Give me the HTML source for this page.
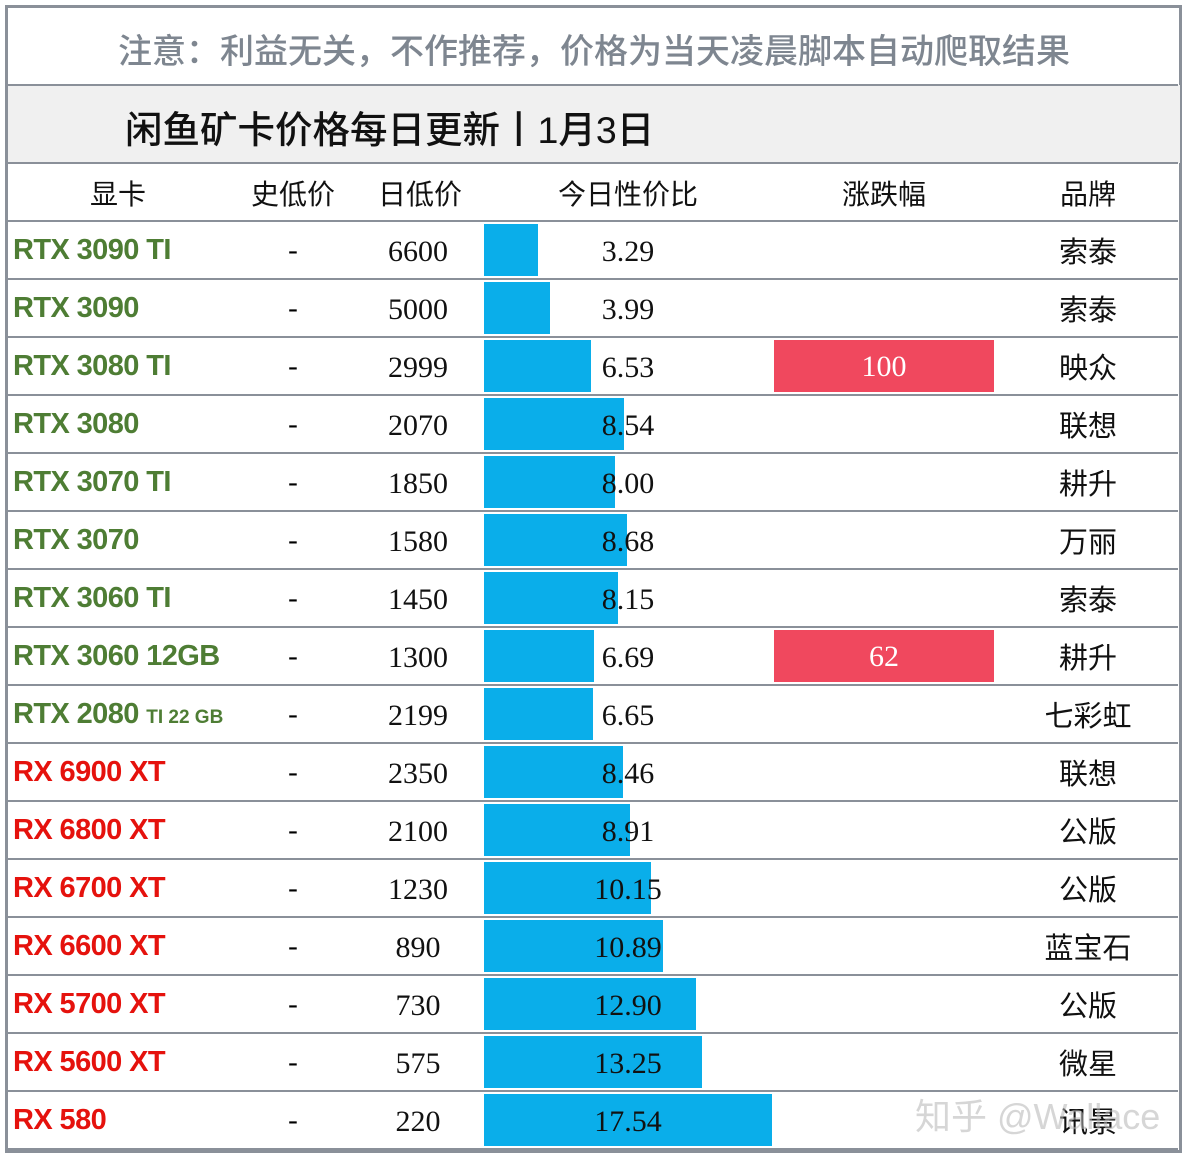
<!DOCTYPE html>
<html><head><meta charset="utf-8">
<style>
body{margin:0;width:1188px;height:1156px;background:#fff;overflow:hidden;position:relative;font-family:"Liberation Sans","Noto Sans CJK SC",sans-serif}
.a{position:absolute}
.hl{position:absolute;left:6px;width:1172px;height:2px;background:#8a9099}
.c{position:absolute;text-align:center;white-space:nowrap}
</style></head><body>
<div class="a" style="left:5px;top:5px;width:1171px;height:1142px;border:3px solid #8a9099"></div>
<div class="c" style="left:8px;width:1172px;top:24px;font-size:34px;color:#7e8690;font-weight:500">注意：利益无关，不作推荐，价格为当天凌晨脚本自动爬取结果</div>
<div class="a" style="left:8px;top:85px;width:1172px;height:78px;background:#f0f0f0"></div>
<div class="a" style="left:125px;top:99px;font-size:37.5px;color:#111;font-weight:500">闲鱼矿卡价格每日更新丨1月3日</div>
<div class="hl" style="top:84px"></div><div class="hl" style="top:162px"></div>
<div id="hdr"></div>
<div id="rows"></div>
<div class="a" style="left:915px;top:1088px;font-size:36px;color:rgba(180,180,180,0.55)">知乎 @Wallace</div>
<script>
const names=["RTX 3090 TI","RTX 3090","RTX 3080 TI","RTX 3080","RTX 3070 TI","RTX 3070","RTX 3060 TI","RTX 3060 12GB","RTX 2080","RX 6900 XT","RX 6800 XT","RX 6700 XT","RX 6600 XT","RX 5700 XT","RX 5600 XT","RX 580"];
const prices=[6600,5000,2999,2070,1850,1580,1450,1300,2199,2350,2100,1230,890,730,575,220];
const ratios=[3.29,3.99,6.53,8.54,8.00,8.68,8.15,6.69,6.65,8.46,8.91,10.15,10.89,12.90,13.25,17.54];
const changes=[null,null,100,null,null,null,null,62,null,null,null,null,null,null,null,null];
const brands=["索泰","索泰","映众","联想","耕升","万丽","索泰","耕升","七彩虹","联想","公版","公版","蓝宝石","公版","微星","讯景"];
const headers=["显卡","史低价","日低价","今日性价比","涨跌幅","品牌"];
const colC=[118,293,420,628,884,1088];
const barX=484, barScale=16.42, rowTop=221, rowH=58;
const hdr=document.getElementById('hdr');
headers.forEach((h,i)=>{const d=document.createElement('div');d.className='c';


d.style.cssText=`left:${colC[i]-100}px;width:200px;top:173px;font-size:28px;color:#111`;d.textContent=h;hdr.appendChild(d);});
const R=document.getElementById('rows');
names.forEach((n,i)=>{const y=rowTop+i*rowH;
 const line=document.createElement('div');line.className='hl';line.style.top=(y-1)+'px';R.appendChild(line);
 const nm=document.createElement('div');nm.className='a';
 
 
 const green=n.startsWith('RTX');
 nm.style.cssText=`left:13px;top:${y+13}px;font-size:29px;font-weight:bold;letter-spacing:-0.6px;color:${green?'#4e7d34':'#e5120d'};white-space:nowrap;width:216px;overflow:hidden`;
 nm.innerHTML=n==="RTX 2080"?'RTX 2080 <span style="font-size:19px;letter-spacing:0">TI 22 GB</span>':n;R.appendChild(nm);
 const lo=document.createElement('div');lo.className='c';
 
 
 lo.style.cssText=`left:243px;width:100px;top:${y+13}px;font-size:29px;font-family:'Liberation Serif',serif`;lo.textContent='-';R.appendChild(lo);
 const p=document.createElement('div');p.className='c';
 
 
 p.style.cssText=`left:338px;width:160px;top:${y+14}px;font-size:30px;font-family:'Liberation Serif',serif;color:#111`;p.textContent=prices[i];R.appendChild(p);
 const b=document.createElement('div');b.className='a';
 
 
 b.style.cssText=`left:${barX}px;top:${y+3}px;height:${rowH-6}px;width:${ratios[i]*barScale}px;background:#0aaeea`;R.appendChild(b);
 const v=document.createElement('div');v.className='c';
 
 
 v.style.cssText=`left:548px;width:160px;top:${y+14}px;font-size:30px;font-family:'Liberation Serif',serif;color:#111`;v.textContent=ratios[i].toFixed(2);R.appendChild(v);
 if(changes[i]!==null){const c=document.createElement('div');c.className='a';
  
  
  c.style.cssText=`left:774px;top:${y+3}px;width:220px;height:${rowH-6}px;background:#f0485e;color:#fff;text-align:center;line-height:${rowH-4}px;font-size:30px;font-family:'Liberation Serif',serif`;c.textContent=changes[i];R.appendChild(c);}
 const br=document.createElement('div');br.className='c';
 
 
 br.style.cssText=`left:988px;width:200px;top:${y+8}px;font-size:29px;color:#111`;br.textContent=brands[i];R.appendChild(br);
});
const last=document.createElement('div');last.className='hl';last.style.top=(rowTop-1+16*rowH)+'px';R.appendChild(last);
</script>
</body></html>
